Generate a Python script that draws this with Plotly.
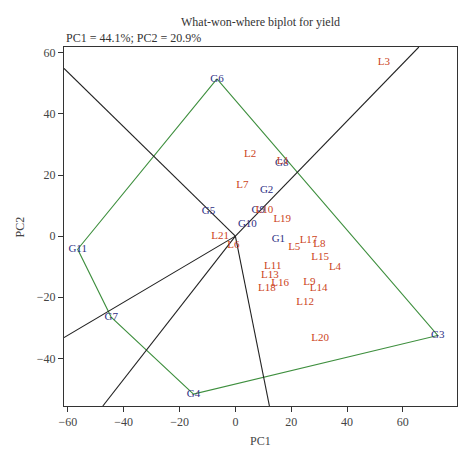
import plotly.graph_objects as go
import numpy as np

# Genotype scores (PC1, PC2)
gen_names = ["G1", "G2", "G3", "G4", "G5", "G6", "G7", "G8", "G9", "G10", "G11"]
gen_pc1 = [15.4, 11.2, 72.5, -15.0, -9.6, -6.6, -44.5, 16.6, 8.2, 4.3, -56.5]
gen_pc2 = [-0.9, 15.1, -32.5, -51.7, 8.0, 51.5, -26.5, 24.0, 8.5, 3.8, -4.3]

# Location scores (PC1, PC2)
loc_names = ["L1", "L2", "L3", "L4", "L5", "L6", "L7", "L8", "L9", "L10", "L11",
             "L12", "L13", "L14", "L15", "L16", "L17", "L18", "L19", "L20", "L21"]
loc_pc1 = [17.0, 5.3, 53.2, 35.7, 21.1, -0.7, 2.5, 30.1, 26.5, 10.4, 13.4,
           25.0, 12.4, 29.8, 30.4, 16.0, 26.2, 11.3, 16.8, 30.4, -5.5]
loc_pc2 = [24.5, 26.9, 57.0, -10.3, -3.7, -3.0, 16.5, -2.7, -15.0, 8.5, -10.0,
           -21.7, -12.8, -17.1, -7.0, -15.5, -1.3, -17.1, 5.6, -33.5, 0.0]

# Convex hull (polygon) vertices, in order
hull = ["G6", "G3", "G4", "G7", "G11"]

x_range = [-61.4, 79.4]
y_range = [-55.6, 61.9]
x_ticks = [-60, -40, -20, 0, 20, 40, 60]
y_ticks = [-40, -20, 0, 20, 40, 60]

title_text = "What-won-where biplot for yield"
subtitle_text = "PC1 = 44.1%; PC2 = 20.9%"

G_COLOR = "#2e2f85"
L_COLOR = "#cc4422"
GREEN = "#3e8f3e"
FONT = "Liberation Serif"

fig = go.Figure()

# Polygon
gpos = {n: (x, y) for n, x, y in zip(gen_names, gen_pc1, gen_pc2)}
hx = [gpos[n][0] for n in hull] + [gpos[hull[0]][0]]
hy = [gpos[n][1] for n in hull] + [gpos[hull[0]][1]]
fig.add_trace(go.Scatter(x=hx, y=hy, mode="lines",
                         line=dict(color=GREEN, width=1.1),
                         hoverinfo="skip", showlegend=False))

# Rays perpendicular to each polygon side, from the origin
for i in range(len(hull)):
    ax_, ay_ = gpos[hull[i]]
    bx_, by_ = gpos[hull[(i + 1) % len(hull)]]
    dx, dy = bx_ - ax_, by_ - ay_
    nx, ny = dy, -dx
    mx, my = (ax_ + bx_) / 2, (ay_ + by_) / 2
    if nx * mx + ny * my < 0:
        nx, ny = -nx, -ny
    norm = np.hypot(nx, ny)
    nx, ny = nx / norm, ny / norm
    # extend to plot border
    ts = []
    for lim in x_range:
        if nx != 0:
            t = lim / nx
            if t > 0:
                ts.append(t)
    for lim in y_range:
        if ny != 0:
            t = lim / ny
            if t > 0:
                ts.append(t)
    t = min(ts)
    fig.add_trace(go.Scatter(x=[0, nx * t], y=[0, ny * t], mode="lines",
                             line=dict(color="#222222", width=1.1),
                             hoverinfo="skip", showlegend=False))

# Genotype labels
fig.add_trace(go.Scatter(x=gen_pc1, y=gen_pc2, mode="text", text=gen_names,
                         textposition="middle center",
                         textfont=dict(family=FONT, size=11, color=G_COLOR),
                         showlegend=False, hoverinfo="text", cliponaxis=False))
# Location labels
fig.add_trace(go.Scatter(x=loc_pc1, y=loc_pc2, mode="text", text=loc_names,
                         textposition="middle center",
                         textfont=dict(family=FONT, size=11, color=L_COLOR),
                         showlegend=False, hoverinfo="text", cliponaxis=False))

axis_common = dict(showgrid=False, zeroline=False, showline=True, linecolor="#333333",
                   linewidth=1, mirror=True, ticks="outside", ticklen=5,
                   tickcolor="#333333", tickfont=dict(family=FONT, size=12, color="#444444"))

fig.update_layout(
    width=474, height=462,
    margin=dict(l=64, r=17, t=47, b=56),
    paper_bgcolor="white", plot_bgcolor="white",
    title=dict(text=title_text, x=0.5, xref="paper", xanchor="center",
               y=1 - 21.7 / 462, yref="container", yanchor="middle",
               font=dict(family=FONT, size=12, color="#333333")),
    xaxis=dict(range=x_range, tickvals=x_ticks,
               ticktext=[("\u2212" + str(-v)) if v < 0 else str(v) for v in x_ticks],
               **axis_common),
    yaxis=dict(range=y_range, tickvals=y_ticks,
               ticktext=[("\u2212" + str(-v)) if v < 0 else str(v) for v in y_ticks],
               **axis_common),
    annotations=[
        dict(text=subtitle_text, xref="paper", yref="paper", x=0, y=1,
             xanchor="left", yanchor="bottom", showarrow=False, yshift=0,
             font=dict(family=FONT, size=12, color="#333333")),
        dict(text="PC1", xref="paper", yref="paper", x=0.5, y=-0.0985,
             xanchor="center", yanchor="middle", showarrow=False,
             font=dict(family=FONT, size=12, color="#444444")),
        dict(text="PC2", xref="paper", yref="paper", x=-0.112, y=0.5,
             xanchor="center", yanchor="middle", showarrow=False, textangle=-90,
             font=dict(family=FONT, size=12, color="#444444")),
    ],
)

fig.write_html("out.html")
